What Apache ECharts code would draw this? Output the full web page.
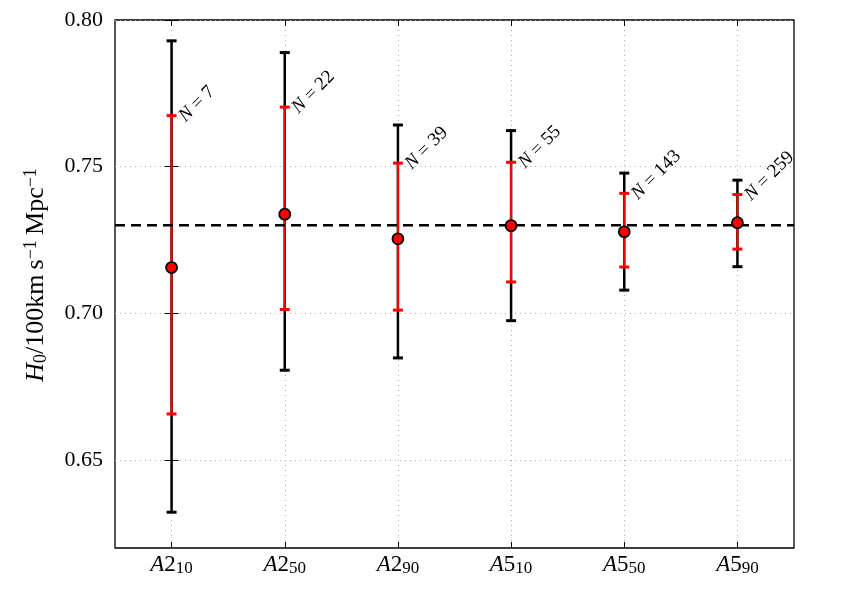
<!DOCTYPE html>
<html>
<head>
<meta charset="utf-8">
<script src="https://cdn.jsdelivr.net/npm/echarts@6/dist/echarts.min.js"></script>
<style>html,body{margin:0;padding:0;background:#fff}#c{width:842px;height:595px}</style>
</head>
<body>
<div id="c"></div>
<script>
// ---- data ----
const categories = ['A2_10', 'A2_50', 'A2_90', 'A5_10', 'A5_50', 'A5_90'];
const catMain = ['A2', 'A2', 'A2', 'A5', 'A5', 'A5'];
const catSub = ['10', '50', '90', '10', '50', '90'];
const h0 = [0.7156, 0.7338, 0.7254, 0.7299, 0.7278, 0.7309];
const innerLo = [0.6657, 0.7013, 0.7011, 0.7107, 0.7158, 0.7219];
const innerHi = [0.7674, 0.7703, 0.7512, 0.7515, 0.7409, 0.7405];
const outerLo = [0.6322, 0.6806, 0.6848, 0.6975, 0.7079, 0.7159];
const outerHi = [0.7929, 0.7889, 0.7642, 0.7623, 0.7478, 0.7454];
const nCounts = [7, 22, 39, 55, 143, 259];
const refValue = 0.73;
const yTicks = [0.65, 0.70, 0.75, 0.80];

const FONT = 'Liberation Serif';
const chart = echarts.init(document.getElementById('c'), null, {renderer: 'canvas'});

function errorBar(color, lw) {
  return function (params, api) {
    const x = api.value(0);
    const pLo = api.coord([x, api.value(1)]);
    const pHi = api.coord([x, api.value(2)]);
    const cap = 5;
    return {
      type: 'group',
      children: [
        {type: 'line', shape: {x1: pLo[0], y1: pLo[1], x2: pHi[0], y2: pHi[1]}, style: {stroke: color, lineWidth: lw}},
        {type: 'line', shape: {x1: pLo[0] - cap, y1: pLo[1], x2: pLo[0] + cap, y2: pLo[1]}, style: {stroke: color, lineWidth: 3}},
        {type: 'line', shape: {x1: pHi[0] - cap, y1: pHi[1], x2: pHi[0] + cap, y2: pHi[1]}, style: {stroke: color, lineWidth: 3}}
      ]
    };
  };
}

const xIdx = categories.map((c, i) => i);
const gridLine = {show: true, lineStyle: {color: '#b0b0b0', type: [1, 4], width: 1}};

const option = {
  animation: false,
  backgroundColor: '#fff',
  grid: {left: 115, right: 48, top: 20, bottom: 47, show: true, borderColor: '#000', borderWidth: 1.3, containLabel: false},
  xAxis: [
    {
      type: 'value', min: -0.5, max: 5.5, position: 'bottom',
      axisLine: {show: false},
      axisTick: {show: true, inside: true, length: 6, customValues: xIdx, lineStyle: {color: '#000', width: 1}},
      splitLine: gridLine,
      axisLabel: {
        customValues: xIdx, margin: 5,
        formatter: v => '{a|' + catMain[Math.round(v)].charAt(0) + '}{n|' + catMain[Math.round(v)].charAt(1) + '}{s|' + catSub[Math.round(v)] + '}',
        rich: {
          a: {fontFamily: FONT, fontSize: 23, fontStyle: 'italic', color: '#000', verticalAlign: 'middle', lineHeight: 24},
          n: {fontFamily: FONT, fontSize: 23, color: '#000', verticalAlign: 'middle', lineHeight: 24},
          s: {fontFamily: FONT, fontSize: 17, color: '#000', verticalAlign: 'bottom', lineHeight: 17, padding: [12, 0, 0, 0]}
        }
      }
    },
    {
      type: 'value', min: -0.5, max: 5.5, position: 'top',
      axisLine: {show: false},
      axisTick: {show: true, inside: true, length: 6, customValues: xIdx, lineStyle: {color: '#000', width: 1}},
      splitLine: {show: false},
      axisLabel: {show: false}
    }
  ],
  yAxis: [
    {
      type: 'value', min: 0.62, max: 0.80, position: 'left',
      axisLine: {show: false},
      axisTick: {show: true, inside: true, length: 7, customValues: yTicks, lineStyle: {color: '#000', width: 1}},
      splitLine: gridLine,
      axisLabel: {customValues: yTicks, margin: 12, formatter: v => v.toFixed(2), fontFamily: FONT, fontSize: 22, color: '#000'},
      name: '{h|H}{z|0}{n|/100km\u2009s}{p|\u22121}{n|\u2009Mpc}{p|\u22121}',
      nameLocation: 'middle', nameGap: 54, nameRotate: 90,
      nameTextStyle: {
        padding: [0, 0, 0, 18],
        rich: {
          h: {fontFamily: FONT, fontSize: 26, fontStyle: 'italic', color: '#000', verticalAlign: 'middle', lineHeight: 28},
          n: {fontFamily: FONT, fontSize: 26, color: '#000', verticalAlign: 'middle', lineHeight: 28},
          z: {fontFamily: FONT, fontSize: 18, color: '#000', verticalAlign: 'bottom', lineHeight: 18, padding: [14, 0, 0, 0]},
          p: {fontFamily: FONT, fontSize: 18, color: '#000', verticalAlign: 'top', lineHeight: 18, padding: [0, 0, 13, 0]}
        }
      }
    },
    {
      type: 'value', min: 0.62, max: 0.80, position: 'right',
      axisLine: {show: false},
      axisTick: {show: true, inside: true, length: 7, customValues: yTicks, lineStyle: {color: '#000', width: 1}},
      splitLine: {show: false},
      axisLabel: {show: false}
    }
  ],
  series: [
    {
      type: 'custom', z: 2, xAxisIndex: 0, yAxisIndex: 0,
      renderItem: errorBar('#000', 2.5),
      encode: {x: 0, y: [1, 2]},
      data: xIdx.map(i => [i, outerLo[i], outerHi[i]])
    },
    {
      type: 'custom', z: 3, xAxisIndex: 0, yAxisIndex: 0,
      renderItem: errorBar('#ff0000', 2),
      encode: {x: 0, y: [1, 2]},
      data: xIdx.map(i => [i, innerLo[i], innerHi[i]])
    },
    {
      type: 'line', z: 4, xAxisIndex: 0, yAxisIndex: 0,
      symbol: 'none',
      lineStyle: {color: '#000', width: 2.5, type: [10, 6]},
      data: [[-0.5, refValue], [5.5, refValue]]
    },
    {
      type: 'scatter', z: 5, xAxisIndex: 0, yAxisIndex: 0,
      symbol: 'circle', symbolSize: 11,
      itemStyle: {color: '#ff0000', borderColor: '#000', borderWidth: 1.8, opacity: 1},
      data: xIdx.map(i => [i, h0[i]])
    },
    {
      type: 'custom', z: 6, xAxisIndex: 0, yAxisIndex: 0,
      encode: {x: 0, y: 1},
      renderItem: function (params, api) {
        const i = params.dataIndex;
        const p = api.coord([api.value(0), api.value(1)]);
        return {
          type: 'text',
          x: p[0] + 17, y: p[1] + 10,
          rotation: Math.PI / 4,
          style: {
            text: '{i|N} = ' + nCounts[i],
            fontFamily: FONT, fontSize: 19, fill: '#000',
            align: 'left', verticalAlign: 'bottom',
            rich: {i: {fontFamily: FONT, fontSize: 19, fontStyle: 'italic', fill: '#000'}}
          }
        };
      },
      data: xIdx.map(i => [i, innerHi[i]])
    }
  ]
};
chart.setOption(option);
</script>
</body>
</html>
